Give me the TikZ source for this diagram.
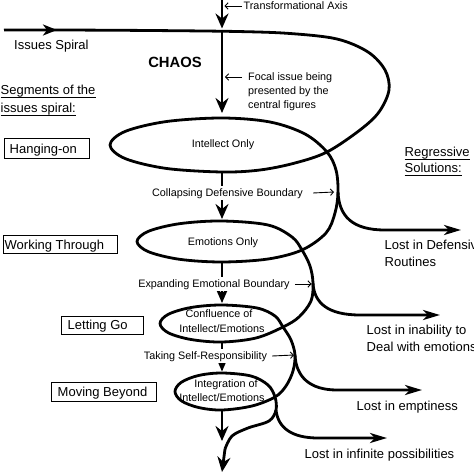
\documentclass[tikz,border=0pt]{standalone}
\usepackage{fontspec}
\setmainfont{Liberation Sans}
\usetikzlibrary{arrows.meta}
\begin{document}
\begin{tikzpicture}[x=1pt,y=-1pt,
  spiral/.style={line width=2.8pt, line join=round},
  axisarrow/.style={line width=2.8pt, -{Stealth[length=15pt,width=13pt,inset=5pt]}},
  regarrow/.style={line width=2.8pt, -{Stealth[length=17pt,width=10pt,inset=5pt]}},
  pointer/.style={line width=0.9pt, -{Straight Barb[length=3pt,width=6.5pt]}},
  big/.style={font=\fontsize{13}{15.6}\selectfont, inner sep=0pt, text height=9.3pt, text depth=0pt},
  small/.style={font=\fontsize{10.8}{13}\selectfont, inner sep=0pt, text height=7.7pt, text depth=0pt},
  onaxis/.style={small, fill=white, inner xsep=1pt, inner ysep=3pt},
  stagebox/.style={draw, line width=1pt, inner sep=0pt},
  uline/.style={line width=0.9pt},
]
\useasboundingbox (0,0) rectangle (474,473);
\fill[white] (0,0) rectangle (474,473);

% key points
\coordinate (ax0) at (222,0);
\coordinate (ax1) at (222,28.5);
\coordinate (ax2) at (222,30);
\coordinate (ax3) at (222,113);
\coordinate (e1b) at (222,172);
\coordinate (e2t) at (222,219);
\coordinate (e2b) at (222,262);
\coordinate (e3t) at (222,303);
\coordinate (e3b) at (222,342);
\coordinate (e4t) at (222,371.5);
\coordinate (e4b) at (222,410);
\coordinate (endax) at (222,441);
\coordinate (spstart) at (4,30);
\coordinate (sparrow) at (57,30);
\coordinate (spend) at (225,449);
\coordinate (spendtip) at (222,472);
\coordinate (b1) at (338,192);
\coordinate (b2) at (313,283);
\coordinate (b3) at (295,355);
\coordinate (b4) at (276,410);
\coordinate (r1) at (385,230);
\coordinate (r1t) at (461,230);
\coordinate (r2) at (360,315);
\coordinate (r2t) at (440,315);
\coordinate (r3) at (337,390);
\coordinate (r3t) at (422,390);
\coordinate (r4) at (318,438);
\coordinate (r4t) at (387,438);

% the issues spiral
\draw[spiral] plot[smooth, tension=0.55] coordinates {
 (4,30) (60,30) (150,30.5) (237,31.5) (290,33.5) (337,39) (368,52) (385,70) (389,90)
 (379,112) (360,130) (327,152) (295,163) (260,170) (222,172)
 (166,168.4) (125,158.5) (110,145) (125,131.5) (166,121.6) (222,118)
 (270,122) (305,134) (327,152) (336,170) (338,192)
 (335,213) (326,233) (302,250) (268,259) (222,262)
 (179.5,259.3) (148.4,251.7) (137,241.5) (148.4,231.3) (179.5,223.7) (222,221)
 (268,225) (292,237) (302,250) (310,266) (313,283)
 (311,301) (299,317) (283,327) (256,338) (222,342)
 (191,339.5) (168.3,332.8) (160,323.5) (168.3,314.3) (191,307.5) (222,305)
 (257,308) (275,316) (283,327) (291,340) (295,355)
 (293,371) (286,386) (275,397) (252,406) (222,410)
 (198.5,407.5) (181.3,400.8) (175,391.5) (181.3,382.3) (198.5,375.5) (222,373)
 (251,376) (268,385) (275,397) (276,410)
 (269,421) (248,428) (232,436) (225,449)};
\draw[axisarrow] (spend) -- (spendtip);
\draw[line width=2.8pt, -{Stealth[length=14pt,width=11pt,inset=4pt]}] (spstart) -- (sparrow);

% regressive branches
\draw[regarrow] (b1) .. controls (339,216) and (352,230) .. (r1) -- (r1t);
\draw[regarrow] (b2) .. controls (314,303) and (328,315) .. (r2) -- (r2t);
\draw[regarrow] (b3) .. controls (296,377) and (310,390) .. (r3) -- (r3t);
\draw[regarrow] (b4) .. controls (278,428) and (292,438) .. (r4) -- (r4t);

% transformational axis
\draw[axisarrow] (ax0) -- (ax1);
\draw[axisarrow] (ax2) -- (ax3);
\draw[axisarrow] (e1b) -- (e2t);
\draw[axisarrow] (e2b) -- (e3t);
\draw[axisarrow] (e3b) -- (e4t);
\draw[axisarrow] (e4b) -- (endax);

% top labels
\node[big, anchor=west] (issues) at (14,45) {Issues Spiral};
\node[font=\bfseries\fontsize{14.8}{17}\selectfont, inner sep=0pt] (chaos) at (175,62) {CHAOS};
\node[big, anchor=west] (seg1) at (0.5,90) {Segments of the};
\node[big, anchor=west] (seg2) at (0.5,108) {issues spiral:};
\draw[uline] ([yshift=-2.4pt]seg1.south west) -- ([yshift=-2.4pt]seg1.south east);
\draw[uline] ([yshift=-2.4pt]seg2.south west) -- ([yshift=-2.4pt]seg2.south east);

\node[small, anchor=west] (ta) at (243.5,6) {Transformational Axis};
\coordinate (tat) at (224.5,6);
\draw[pointer] ([xshift=-1.5pt]ta.west) -- (tat);

\node[small, anchor=west] (f1) at (248,77) {Focal issue being};
\node[small, anchor=west] (f2) at (248,91) {presented by the};
\node[small, anchor=west] (f3) at (248,105) {central figures};
\coordinate (ft) at (225,77);
\draw[pointer] ([xshift=-6pt]f1.west) -- (ft);

% ellipse labels
\node[small] (l1) at (223,144) {Intellect Only};
\node[small] (l2) at (223,242) {Emotions Only};
\node[small] (l3a) at (219,314) {Confluence of};
\node[small] (l3b) at (222,329) {Intellect/Emotions};
\node[small] (l4a) at (226,384) {Integration of};
\node[small] (l4b) at (222,398) {Intellect/Emotions};

% boundary labels
\node[onaxis] (cdb) at (227.5,193) {Collapsing Defensive Boundary};
\coordinate (p1t) at (334,192);
\draw[pointer] ([xshift=9pt]cdb.east) -- (p1t);
\node[onaxis] (eeb) at (214,284) {Expanding Emotional Boundary};
\coordinate (p2t) at (311.5,284);
\draw[pointer] ([xshift=4pt]eeb.east) -- (p2t);
\node[onaxis] (tsr) at (205.5,356) {Taking Self-Responsibility};
\coordinate (p3t) at (294,355);
\draw[pointer] ([xshift=4pt]tsr.east) -- (p3t);

% stage boxes
\node[stagebox, minimum width=85pt, minimum height=20pt] (hb) at (46.5,149) {};
\node[big, anchor=west] (ht) at (9.5,149) {Hanging-on};
\node[stagebox, minimum width=114pt, minimum height=18pt] (wb) at (60,245) {};
\node[big, anchor=west] (wt) at (4.5,245) {Working Through};
\node[stagebox, minimum width=82pt, minimum height=18pt] (lb) at (102,325) {};
\node[big, anchor=west] (lt) at (67.5,325) {Letting Go};
\node[stagebox, minimum width=105pt, minimum height=19pt] (mb) at (103.5,391.5) {};
\node[big, anchor=west] (mt) at (57.5,391.5) {Moving Beyond};

% regressive solutions
\node[big, anchor=west] (rs1) at (404.5,152) {Regressive};
\node[big, anchor=west] (rs2) at (404.5,168) {Solutions:};
\draw[uline] ([yshift=-2.2pt]rs1.south west) -- ([yshift=-2.2pt]rs1.south east);
\draw[uline] ([yshift=-2.2pt]rs2.south west) -- ([yshift=-2.2pt]rs2.south east);
\node[big, anchor=west] (ld1) at (384.5,245) {Lost in Defensive};
\node[big, anchor=west] (ld2) at (384.5,262) {Routines};
\node[big, anchor=west] (li1) at (366.5,330) {Lost in inability to};
\node[big, anchor=west] (li2) at (366.5,346.5) {Deal with emotions};
\node[big, anchor=west] (le) at (356.5,406) {Lost in emptiness};
\node[big, anchor=west] (lp) at (304.5,454) {Lost in infinite possibilities};
\end{tikzpicture}
\end{document}
